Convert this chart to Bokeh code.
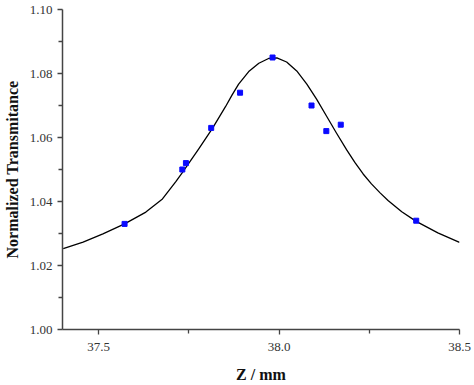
from bokeh.plotting import figure
from bokeh.models import Range1d, FixedTicker
from bokeh.embed import file_html
from bokeh.resources import INLINE

# measured data points
z_data = [37.572, 37.732, 37.742, 37.812, 37.892, 37.982, 38.090, 38.131, 38.171, 38.380]
t_data = [1.033, 1.050, 1.052, 1.063, 1.074, 1.085, 1.070, 1.062, 1.064, 1.034]

# fitted curve
z_fit = [37.402, 37.457, 37.512, 37.572, 37.631, 37.677, 37.714, 37.732, 37.778, 37.815,
         37.852, 37.870, 37.888, 37.916, 37.944, 37.971, 37.994, 38.021, 38.049, 38.077,
         38.104, 38.131, 38.159, 38.187, 38.210, 38.233, 38.256, 38.280, 38.302, 38.340,
         38.380, 38.440, 38.500]
t_fit = [1.0253, 1.0273, 1.0299, 1.0330, 1.0367, 1.0408, 1.0462, 1.0490, 1.0565, 1.0628,
         1.0697, 1.0733, 1.0767, 1.0806, 1.0832, 1.0847, 1.0849, 1.0836, 1.0808, 1.0767,
         1.0720, 1.0668, 1.0614, 1.0562, 1.0522, 1.0486, 1.0455, 1.0427, 1.0403, 1.0368,
         1.0338, 1.0302, 1.0272]

x_ticks = [37.5, 38.0, 38.5]
x_minor = [37.75, 38.25]
y_ticks = [1.00, 1.02, 1.04, 1.06, 1.08, 1.10]
y_minor = [1.01, 1.03, 1.05, 1.07, 1.09]

p = figure(width=474, height=385, output_backend="svg", toolbar_location=None,
           x_range=Range1d(37.4, 38.5), y_range=Range1d(1.00, 1.10),
           min_border_left=60, min_border_right=15, min_border_top=9, min_border_bottom=56)
p.outline_line_color = None
p.grid.visible = False
p.background_fill_color = "white"

p.line(z_fit, t_fit, line_color="black", line_width=1.3, line_join="round")
p.scatter(z_data, t_data, marker="square", size=5, fill_color="#0a0aff", line_color="#0a0aff")

p.xaxis.ticker = FixedTicker(ticks=x_ticks, minor_ticks=x_minor)
p.yaxis.ticker = FixedTicker(ticks=y_ticks, minor_ticks=y_minor)
p.xaxis.major_label_overrides = {37.5: "37.5", 38.0: "38.0", 38.5: "38.5"}
p.yaxis.major_label_overrides = {v: f"{v:.2f}" for v in y_ticks}

for ax in (p.xaxis[0], p.yaxis[0]):
    ax.axis_line_color = "#444444"
    ax.axis_line_width = 1.5
    ax.major_tick_line_color = "#444444"
    ax.minor_tick_line_color = "#444444"
    ax.major_tick_line_width = 1.3
    ax.minor_tick_line_width = 1.3
    ax.major_tick_out = 5
    ax.major_tick_in = 0
    ax.minor_tick_out = 4
    ax.minor_tick_in = 0
    ax.major_label_text_font = "Liberation Serif"
    ax.major_label_text_font_size = "13px"
    ax.major_label_text_color = "#333333"
    ax.axis_label_text_font = "Liberation Serif"
    ax.axis_label_text_font_style = "bold"
    ax.axis_label_text_font_size = "16px"
    ax.axis_label_text_color = "#111111"

p.xaxis.axis_label = "Z / mm"
p.yaxis.axis_label = "Normalized Transmitance"
p.xaxis.major_label_standoff = 8
p.yaxis.major_label_standoff = 5
p.xaxis.axis_label_standoff = 12
p.yaxis.axis_label_standoff = 6

open("out.html", "w").write(file_html(p, INLINE))
